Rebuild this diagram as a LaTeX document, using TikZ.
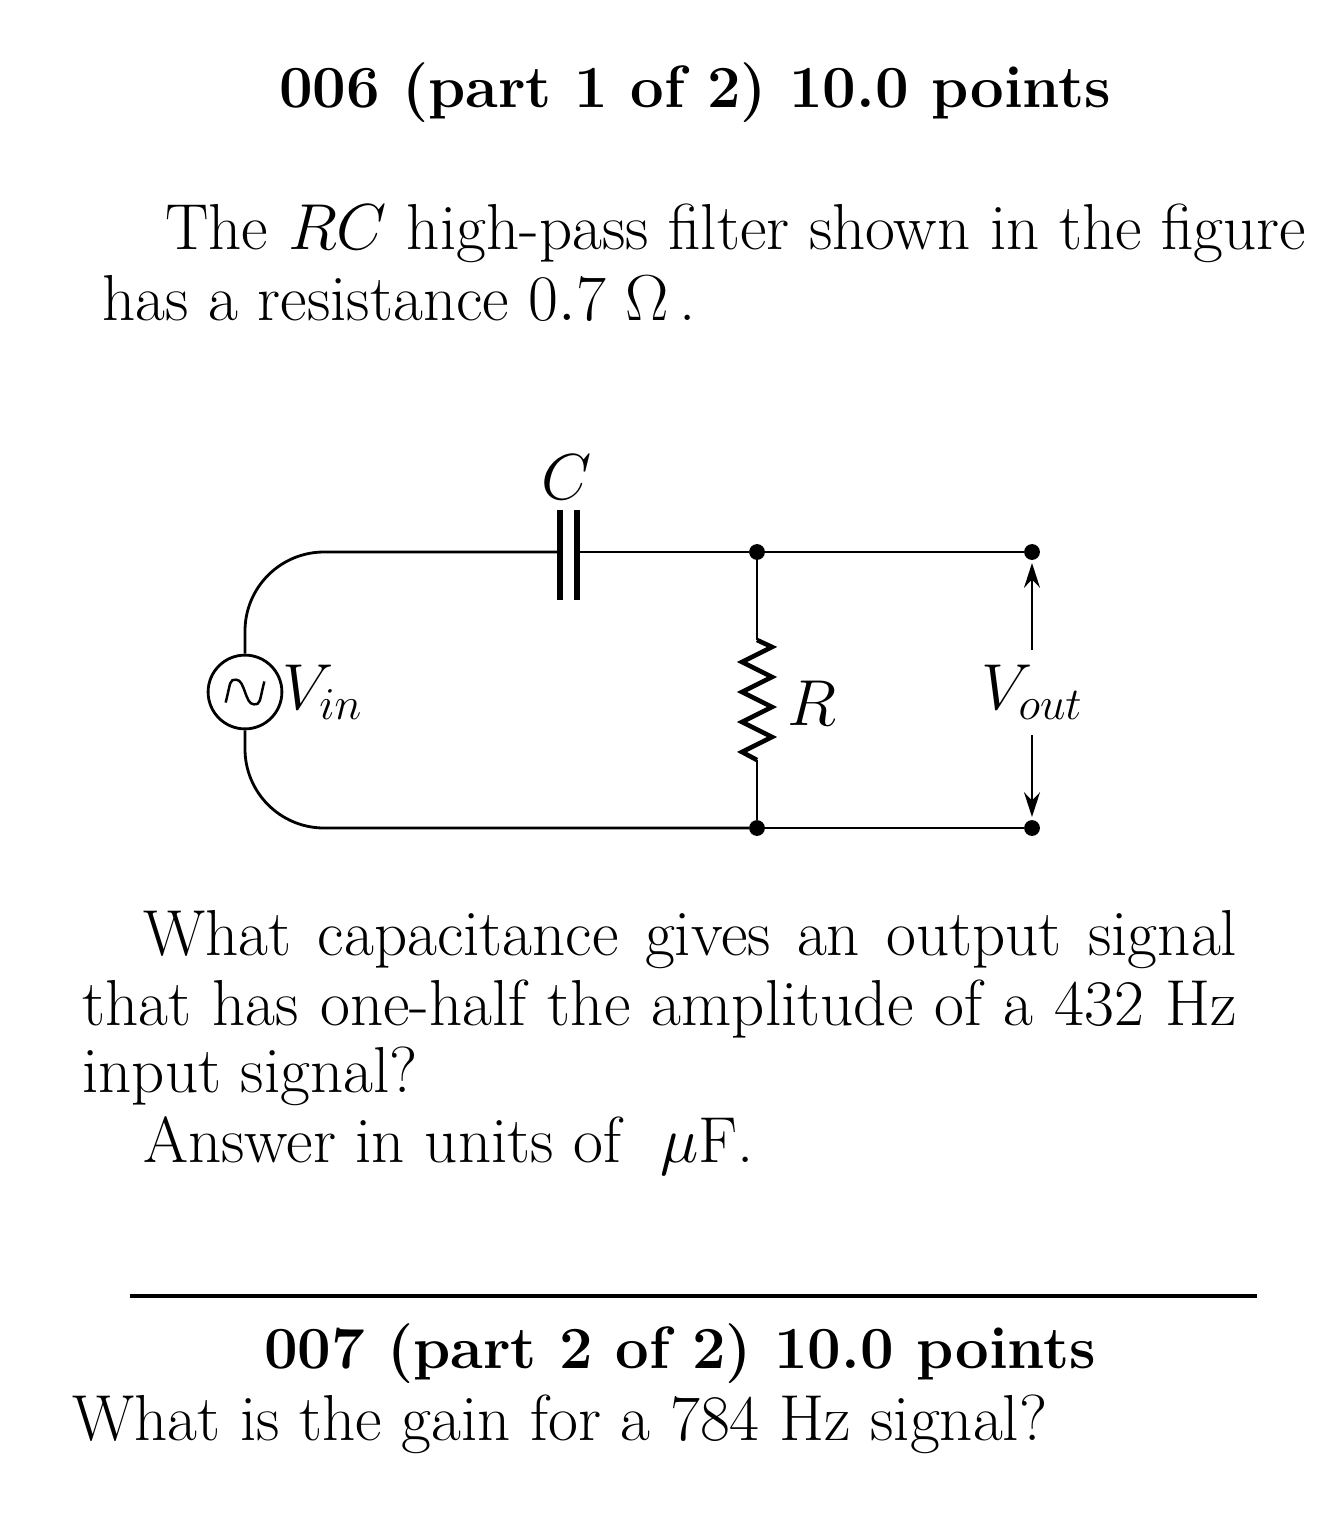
\RequirePackage{fix-cm}
\documentclass[tikz,border=0pt]{standalone}
\usetikzlibrary{arrows.meta}
\DeclareMathSizes{37}{37}{26}{19}
\begin{document}
\begin{tikzpicture}[x=0.02cm,y=-0.02cm,
  txt/.style={anchor=base west,inner sep=0pt,font=\fontsize{37}{44}\selectfont},
  ttl/.style={anchor=base,inner sep=0pt,font=\fontsize{34}{42}\selectfont\bfseries},
  wire/.style={line width=1.6pt},
  dot/.style={circle,fill=black,inner sep=0pt,minimum size=9pt},
  lbl/.style={inner sep=0pt,font=\fontsize{37}{44}\selectfont}]
\useasboundingbox (0,0) rectangle (1331,1524);
\node[ttl] (t1) at (695,108) {006 (part 1 of 2) 10.0 points};
\node[txt] (p1) at (165,250) {The $RC$ high-pass filter shown in the figure};
\node[txt] (p2) at (102,320) {has a resistance $0.7\ \Omega$\,.};
% circuit
\coordinate (tl) at (245,552);
\coordinate (bl) at (245,828);
\node[draw,circle,line width=1.6pt,minimum size=42pt,inner sep=0pt] (src) at (245,692) {};
\draw[line width=1.4pt] ([xshift=-11pt,yshift=-6pt]src.center) .. controls +(3pt,12pt) and +(-4pt,0pt) .. ([xshift=-5pt,yshift=7pt]src.center) .. controls +(5pt,0) and +(-5pt,0) .. ([xshift=5pt,yshift=-7pt]src.center) .. controls +(4pt,0) and +(-3pt,-12pt) .. ([xshift=11pt,yshift=6pt]src.center);
\node[lbl,anchor=west] (vin) at (282,692) {$V_{in}$};
\coordinate (c1) at (560,552);
\coordinate (c2) at (577,552);
\draw[line width=3.5pt] (560,510) -- (560,600) (577,510) -- (577,600);
\node[lbl] (clab) at (567,477) {$C$};
\node[dot] (n1) at (757,552) {};
\node[dot] (n2) at (757,828) {};
\node[dot] (n3) at (1032,552) {};
\node[dot] (n4) at (1032,828) {};
\draw[wire,rounded corners=45pt] (src.north) -- (tl) -- (c1);
\draw[wire,rounded corners=45pt] (src.south) -- (bl) -- (n2);
\draw[wire] (c2) -- (n1) -- (n3);
\draw[wire] (n2) -- (n4);
\coordinate (r1) at (757,640);
\coordinate (r2) at (757,760);
\draw[wire] (n1) -- (r1);
\draw[wire] (r2) -- (n2);
\draw[line width=2.6pt,line join=miter] (r1) -- (772,647) -- (742,662) -- (772,677) -- (742,692) -- (772,707) -- (742,722) -- (772,737) -- (742,752) -- (r2);
\node[lbl,anchor=west] (rlab) at (787,703) {$R$};
\node[lbl] (vout) at (1032,692) {$V_{out}$};
\draw[wire,-{Stealth[length=14pt,width=9pt]}] (1032,650) -- (1032,563);
\draw[wire,-{Stealth[length=14pt,width=9pt]}] (1032,735) -- (1032,817);
% question
\node[txt] (q1) at (143,955) {\makebox[21.88cm][s]{What capacitance gives an output signal}};
\node[txt] (q2) at (82,1025) {\makebox[23.1cm][s]{that has one-half the amplitude of a 432 Hz}};
\node[txt] (q3) at (82,1092) {input signal?};
\node[txt] (q4) at (143,1162) {Answer in units of \ $\mu$F.};
\draw[line width=1.8pt] (130,1296) coordinate (ra) -- (1257,1296) coordinate (rb);
\node[ttl] (t2) at (680,1368) {007 (part 2 of 2) 10.0 points};
\node[txt] (p3) at (72,1440) {What is the gain for a 784 Hz signal?};
\end{tikzpicture}
\end{document}
